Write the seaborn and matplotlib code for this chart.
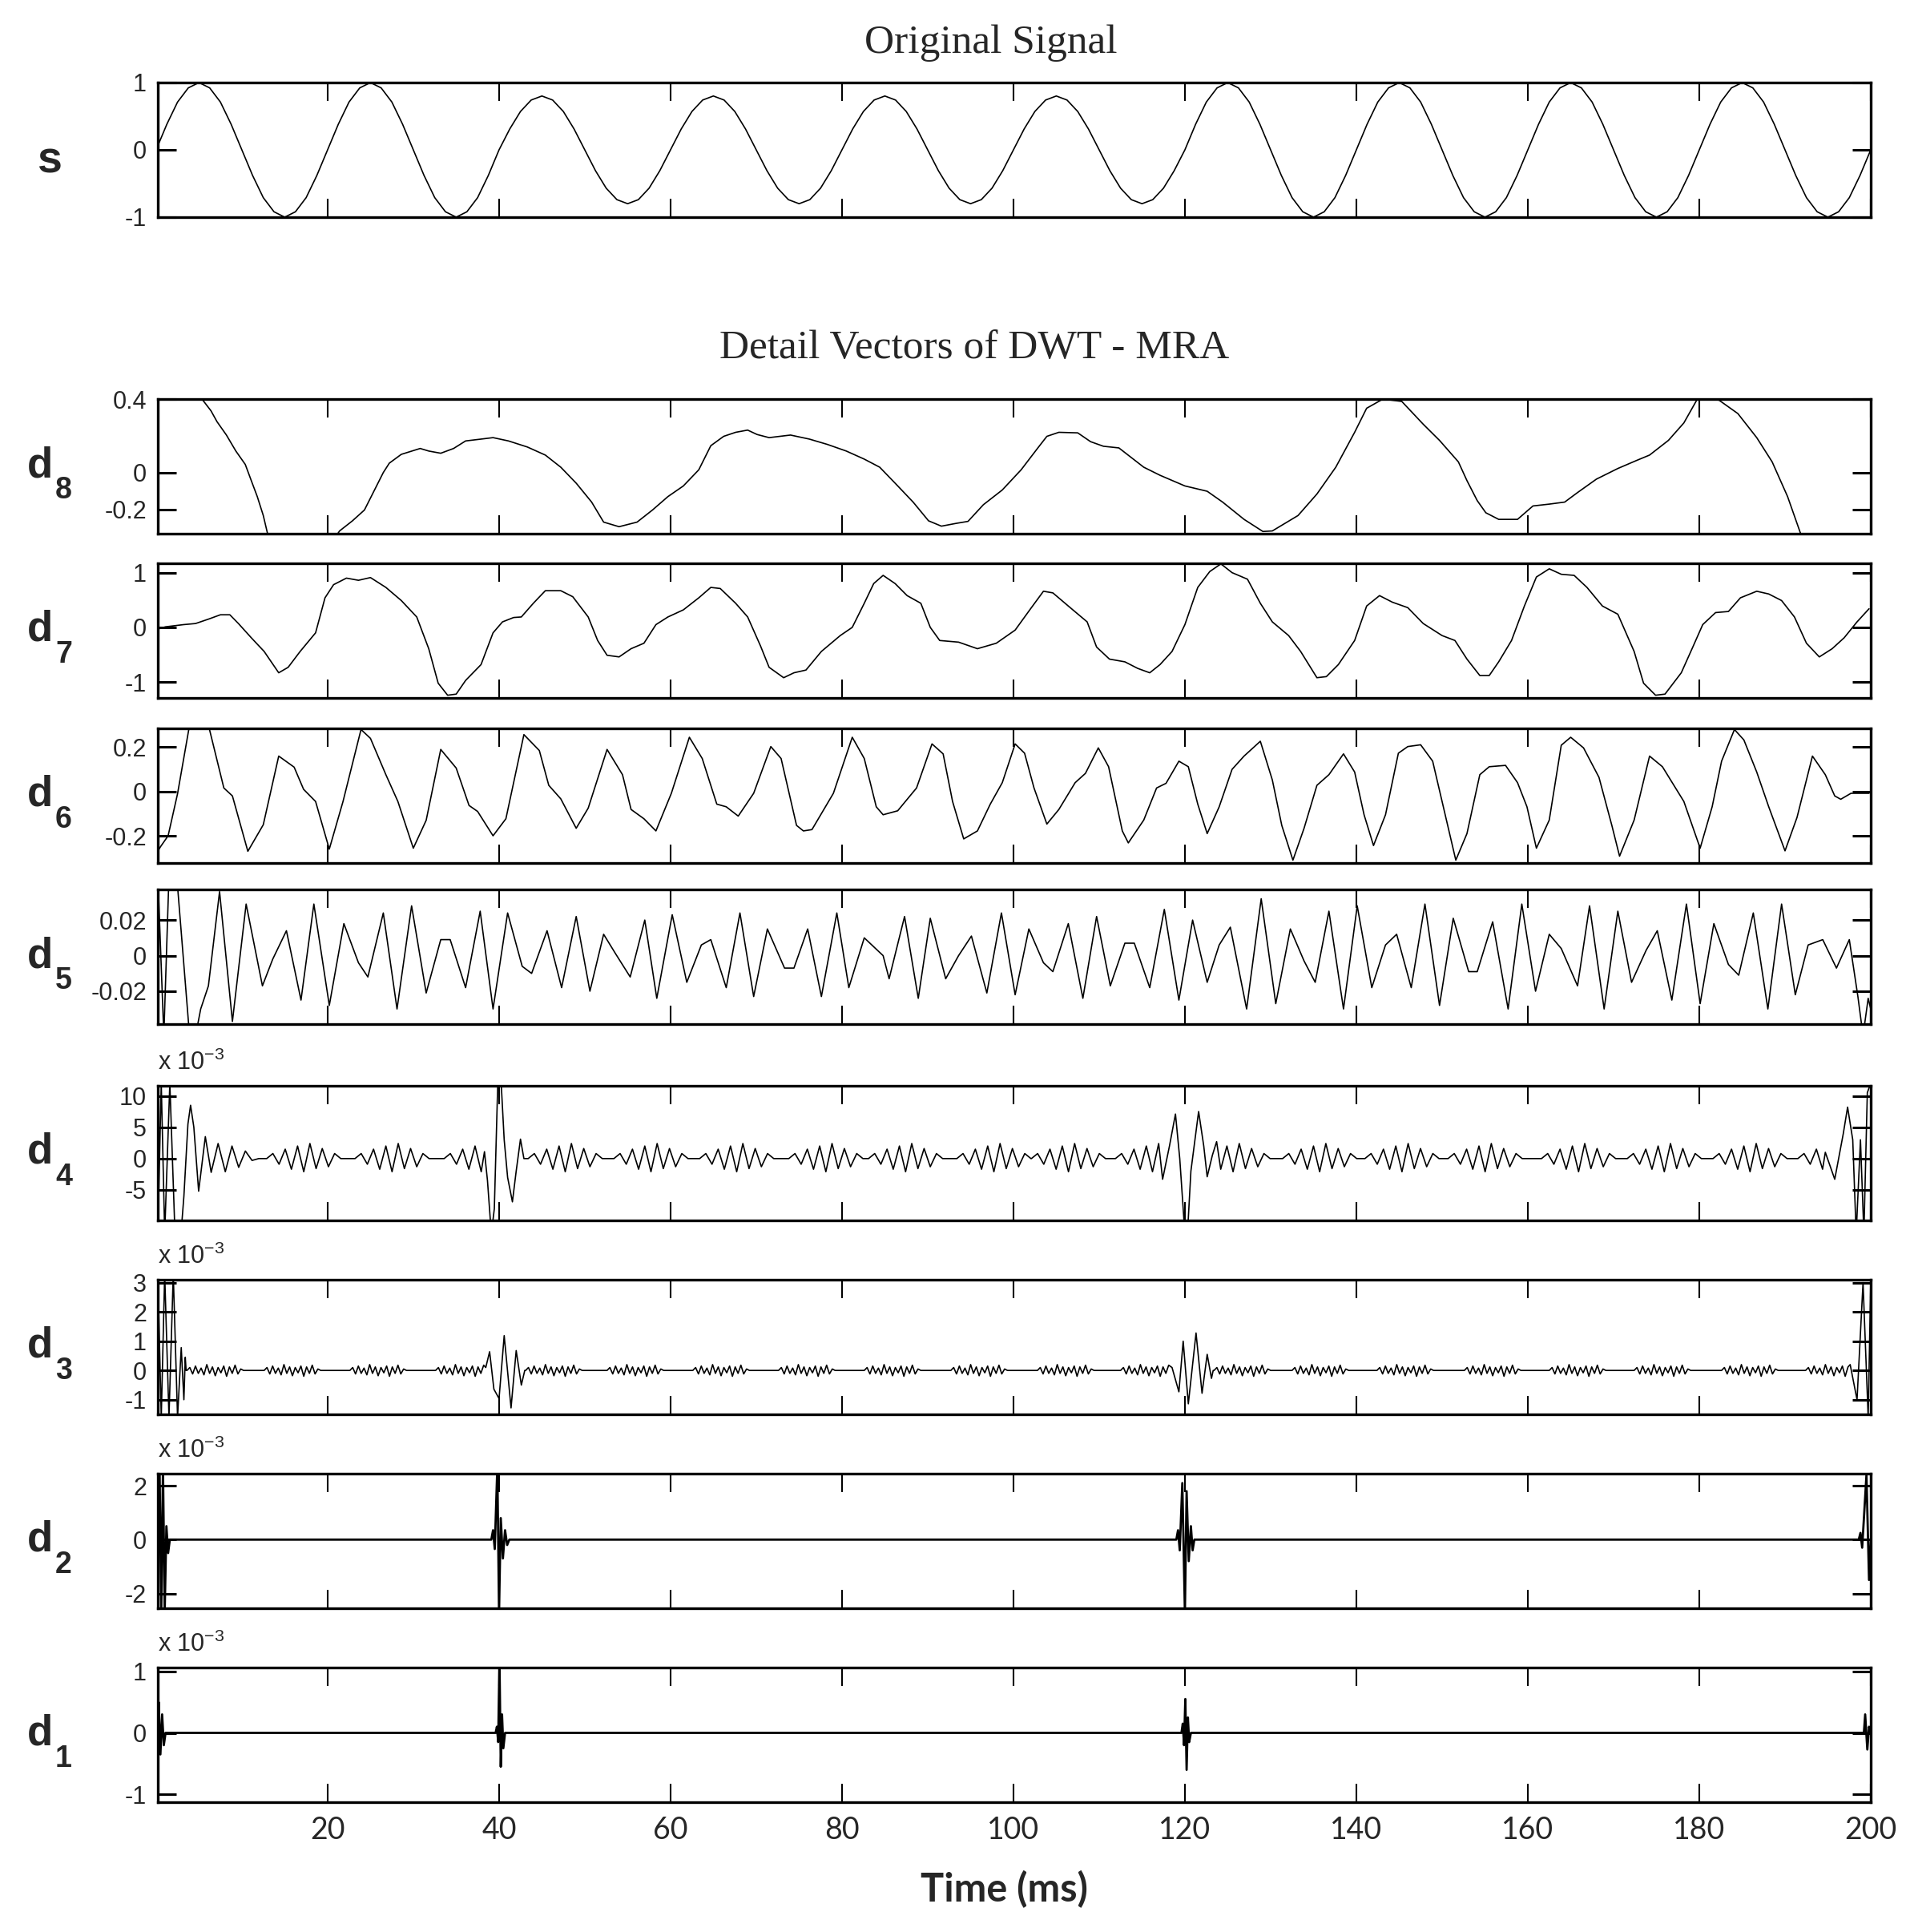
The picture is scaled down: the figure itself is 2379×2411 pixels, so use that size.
import numpy as np
import matplotlib
matplotlib.use("Agg")
import matplotlib.pyplot as plt
from matplotlib.ticker import FormatStrFormatter
import seaborn as sns

# ---------------- data (time in ms) ----------------
# original signal, sampled every 1.25 ms from 0 to 200 ms
s_step = 1.25
s_values = [
    0, 0.38, 0.71, 0.92, 1, 0.92, 0.71, 0.38, 0, -0.38, -0.71, -0.92, -1, -0.92, -0.71, -0.38,
    0, 0.38, 0.71, 0.92, 1, 0.92, 0.71, 0.38, 0, -0.38, -0.71, -0.92, -1, -0.92, -0.71, -0.38,
    0, 0.31, 0.57, 0.74, 0.8, 0.74, 0.57, 0.31, 0, -0.31, -0.57, -0.74, -0.8, -0.74, -0.57, -0.31,
    0, 0.31, 0.57, 0.74, 0.8, 0.74, 0.57, 0.31, 0, -0.31, -0.57, -0.74, -0.8, -0.74, -0.57, -0.31,
    0, 0.31, 0.57, 0.74, 0.8, 0.74, 0.57, 0.31, 0, -0.31, -0.57, -0.74, -0.8, -0.74, -0.57, -0.31,
    0, 0.31, 0.57, 0.74, 0.8, 0.74, 0.57, 0.31, 0, -0.31, -0.57, -0.74, -0.8, -0.74, -0.57, -0.31,
    0, 0.38, 0.71, 0.92, 1, 0.92, 0.71, 0.38, 0, -0.38, -0.71, -0.92, -1, -0.92, -0.71, -0.38,
    0, 0.38, 0.71, 0.92, 1, 0.92, 0.71, 0.38, 0, -0.38, -0.71, -0.92, -1, -0.92, -0.71, -0.38,
    0, 0.38, 0.71, 0.92, 1, 0.92, 0.71, 0.38, 0, -0.38, -0.71, -0.92, -1, -0.92, -0.71, -0.38,
    0, 0.38, 0.71, 0.92, 1, 0.92, 0.71, 0.38, 0, -0.38, -0.71, -0.92, -1, -0.92, -0.71, -0.38,
    0,
]

d8 = [(0.2, 0.75), (1.5, 0.62), (3.0, 0.5), (4.5, 0.43), (5.35, 0.40), (6.4, 0.336), (7.1, 0.277),
      (8.2, 0.204), (9.3, 0.117), (10.4, 0.044), (11.1, -0.044), (11.8, -0.131), (12.5, -0.234),
      (13.0, -0.333), (15.0, -0.45), (17.0, -0.52), (19.0, -0.48), (20.5, -0.38), (21.4, -0.318),
      (22.9, -0.263), (24.3, -0.204), (25.4, -0.102), (26.5, 0.0), (27.2, 0.051), (28.6, 0.099),
      (30.8, 0.131), (31.8, 0.117), (33.2, 0.105), (34.7, 0.131), (36.1, 0.172), (37.9, 0.182),
      (39.3, 0.190), (41.1, 0.172), (43.3, 0.139), (45.4, 0.095), (47.2, 0.029), (49.0, -0.058),
      (50.8, -0.161), (52.2, -0.27), (54.0, -0.295), (56.1, -0.27), (57.9, -0.204), (59.7, -0.131),
      (61.5, -0.073), (63.3, 0.015), (64.7, 0.146), (66.2, 0.197), (67.6, 0.219), (69.0, 0.231),
      (70.1, 0.207), (71.5, 0.19), (74.0, 0.204), (76.2, 0.182), (78.3, 0.153), (80.5, 0.117),
      (82.6, 0.073), (84.4, 0.029), (86.2, -0.058), (88.3, -0.161), (90.1, -0.263), (91.6, -0.292),
      (93.3, -0.277), (94.7, -0.266), (96.5, -0.175), (98.7, -0.095), (100.9, 0.015), (102.8, 0.131),
      (103.9, 0.197), (105.3, 0.219), (107.5, 0.216), (109.0, 0.168), (110.5, 0.143), (112.3, 0.134),
      (115.2, 0.029), (117.1, -0.015), (120.0, -0.073), (122.6, -0.102), (124.4, -0.161),
      (126.9, -0.255), (129.1, -0.321), (130.2, -0.318), (133.2, -0.234), (135.4, -0.117),
      (137.6, 0.029), (139.8, 0.219), (141.2, 0.35), (143.1, 0.40), (145.3, 0.387), (147.8, 0.263),
      (149.7, 0.175), (151.9, 0.058), (152.9, -0.044), (154.1, -0.153), (155.1, -0.219),
      (156.6, -0.255), (158.8, -0.255), (160.6, -0.182), (162.5, -0.172), (164.3, -0.161),
      (165.8, -0.109), (168.0, -0.036), (170.5, 0.022), (172.7, 0.066), (174.2, 0.095), (176.4, 0.175),
      (178.2, 0.27), (179.7, 0.394), (180.4, 0.405), (182.3, 0.394), (184.5, 0.321), (186.7, 0.19),
      (188.5, 0.058), (190.3, -0.131), (191.8, -0.33), (194.0, -0.48), (197.0, -0.6), (200.0, -0.65)]

d7 = [(0.2, -0.03), (1.1, 0.01), (3.2, 0.05), (4.6, 0.07), (6.1, 0.15), (7.5, 0.23), (8.6, 0.23),
      (9.6, 0.07), (11.1, -0.19), (12.6, -0.44), (14.3, -0.83), (15.4, -0.73), (16.8, -0.44),
      (18.6, -0.10), (19.7, 0.54), (20.7, 0.78), (22.2, 0.90), (23.6, 0.86), (25.0, 0.91), (26.8, 0.73),
      (28.6, 0.49), (30.4, 0.19), (31.8, -0.39), (32.9, -1.02), (34.0, -1.24), (35.0, -1.22),
      (36.1, -0.97), (37.9, -0.68), (39.3, -0.10), (40.4, 0.10), (41.7, 0.18), (42.6, 0.19), (44.0, 0.44),
      (45.4, 0.67), (47.2, 0.67), (48.6, 0.56), (50.4, 0.19), (51.5, -0.24), (52.6, -0.51), (54.0, -0.54),
      (55.4, -0.39), (56.9, -0.29), (58.3, 0.05), (59.7, 0.19), (61.5, 0.32), (63.3, 0.54), (64.7, 0.73),
      (65.8, 0.71), (67.6, 0.44), (69.0, 0.19), (70.5, -0.34), (71.5, -0.73), (73.2, -0.92),
      (74.4, -0.83), (75.8, -0.78), (77.6, -0.44), (79.8, -0.15), (81.2, 0.0), (82.6, 0.44), (83.7, 0.80),
      (84.8, 0.95), (86.2, 0.80), (87.6, 0.58), (89.2, 0.44), (90.3, 0.0), (91.4, -0.24), (93.6, -0.27),
      (95.8, -0.39), (98.0, -0.29), (100.2, -0.05), (102.0, 0.34), (103.5, 0.66), (104.6, 0.63),
      (106.4, 0.39), (108.6, 0.10), (109.7, -0.36), (111.2, -0.58), (113.0, -0.63), (114.5, -0.75),
      (115.9, -0.83), (117.1, -0.68), (118.5, -0.44), (120.0, 0.05), (121.5, 0.73), (122.9, 1.02),
      (124.2, 1.16), (125.5, 1.0), (127.3, 0.88), (128.8, 0.44), (130.2, 0.10), (132.1, -0.15),
      (133.5, -0.44), (135.4, -0.92), (136.5, -0.90), (137.9, -0.68), (139.8, -0.24), (141.2, 0.39),
      (142.7, 0.58), (144.2, 0.46), (146.0, 0.36), (147.8, 0.07), (150.0, -0.15), (151.5, -0.24),
      (152.9, -0.58), (154.4, -0.88), (155.5, -0.88), (156.6, -0.63), (158.1, -0.24), (159.6, 0.39),
      (161.0, 0.92), (162.5, 1.07), (163.9, 0.97), (165.4, 0.95), (166.9, 0.73), (168.7, 0.39),
      (170.5, 0.24), (172.4, -0.44), (173.5, -1.02), (174.9, -1.24), (176.0, -1.22), (177.9, -0.83),
      (179.3, -0.34), (180.4, 0.05), (181.9, 0.27), (183.4, 0.29), (184.8, 0.54), (186.7, 0.66),
      (188.1, 0.61), (189.6, 0.49), (191.1, 0.19), (192.5, -0.29), (194.0, -0.54), (195.5, -0.39),
      (196.9, -0.19), (198.4, 0.10), (199.8, 0.34)]

d6 = [(0.2, -0.27), (0.5, -0.25), (1.4, -0.2), (2.5, -0.01), (3.9, 0.3), (6.1, 0.3), (7.9, 0.016),
      (8.9, -0.02), (10.7, -0.27), (12.5, -0.15), (14.3, 0.16), (16.1, 0.11), (17.2, 0.01),
      (18.6, -0.045), (20.2, -0.26), (21.8, -0.045), (23.9, 0.28), (25.0, 0.24), (26.8, 0.076),
      (28.2, -0.045), (30.0, -0.256), (31.5, -0.13), (33.2, 0.19), (35.0, 0.106), (36.5, -0.063),
      (37.5, -0.09), (39.3, -0.2), (40.8, -0.123), (42.9, 0.257), (44.7, 0.185), (45.8, 0.028),
      (47.2, -0.033), (49.0, -0.166), (50.4, -0.075), (52.6, 0.19), (54.4, 0.076), (55.4, -0.081),
      (56.9, -0.123), (58.3, -0.178), (60.1, -0.008), (62.2, 0.245), (63.7, 0.149), (65.4, -0.057),
      (66.5, -0.069), (67.9, -0.111), (69.7, -0.008), (71.7, 0.203), (72.9, 0.149), (74.7, -0.153),
      (75.5, -0.178), (76.5, -0.172), (79.0, -0.008), (81.2, 0.245), (82.6, 0.149), (84.0, -0.069),
      (84.8, -0.105), (86.5, -0.087), (88.7, 0.016), (90.5, 0.215), (91.8, 0.17), (92.9, -0.045),
      (94.2, -0.214), (95.8, -0.178), (97.3, -0.057), (98.7, 0.04), (100.2, 0.215), (101.3, 0.173),
      (102.4, 0.016), (103.9, -0.147), (105.3, -0.081), (107.2, 0.04), (108.4, 0.082), (109.9, 0.197),
      (111.1, 0.112), (112.7, -0.178), (113.4, -0.232), (115.2, -0.129), (116.7, 0.016), (117.8, 0.037),
      (119.3, 0.137), (120.4, 0.112), (121.5, -0.057), (122.6, -0.19), (124.0, -0.069), (125.5, 0.1),
      (126.9, 0.16), (128.8, 0.227), (130.2, 0.052), (131.3, -0.153), (132.6, -0.31), (133.9, -0.166),
      (135.4, 0.028), (136.8, 0.076), (138.5, 0.17), (139.8, 0.088), (140.9, -0.105), (142.0, -0.244),
      (143.4, -0.105), (144.9, 0.173), (146.0, 0.203), (147.5, 0.211), (148.9, 0.137), (150.0, -0.045),
      (151.6, -0.31), (152.9, -0.19), (154.4, 0.076), (155.5, 0.112), (157.4, 0.118), (158.8, 0.04),
      (159.9, -0.069), (161.0, -0.256), (162.5, -0.129), (163.9, 0.209), (165.0, 0.245), (166.5, 0.197),
      (168.3, 0.064), (169.8, -0.153), (170.7, -0.292), (172.4, -0.129), (174.2, 0.16), (175.7, 0.112),
      (178.2, -0.045), (180.1, -0.256), (181.5, -0.069), (182.6, 0.137), (184.1, 0.28), (185.2, 0.233),
      (186.7, 0.088), (188.1, -0.069), (190.0, -0.268), (191.4, -0.117), (193.2, 0.16), (194.7, 0.076),
      (195.8, -0.02), (196.5, -0.035), (197.7, -0.008), (199.8, -0.008)]

d5 = [(0.2, 0.045), (0.9, -0.045), (1.5, 0.045), (2.4, 0.045), (3.9, -0.045), (4.6, -0.045),
      (5.2, -0.03), (6.1, -0.017), (7.4, 0.036), (8.9, -0.037), (10.5, 0.029), (12.4, -0.017),
      (13.6, -0.002), (15.2, 0.014), (16.9, -0.025), (18.4, 0.029), (20.2, -0.028), (21.9, 0.018),
      (23.6, -0.004), (24.7, -0.012), (26.5, 0.024), (28.1, -0.03), (29.8, 0.028), (31.5, -0.021),
      (33.2, 0.009), (34.3, 0.009), (36.1, -0.018), (37.8, 0.025), (39.3, -0.03), (41.0, 0.024),
      (42.7, -0.006), (43.8, -0.01), (45.6, 0.014), (47.3, -0.018), (49.0, 0.022), (50.6, -0.02),
      (52.2, 0.012), (53.6, 0.001), (55.3, -0.012), (57.0, 0.02), (58.4, -0.024), (60.2, 0.023),
      (61.9, -0.015), (63.6, 0.006), (64.7, 0.009), (66.5, -0.018), (68.1, 0.024), (69.7, -0.023),
      (71.3, 0.015), (73.3, -0.007), (74.4, -0.007), (76.0, 0.015), (77.6, -0.023), (79.4, 0.024),
      (80.8, -0.018), (82.6, 0.01), (84.8, 0.0), (85.5, -0.013), (87.3, 0.022), (88.9, -0.024),
      (90.3, 0.021), (92.1, -0.013), (93.6, 0.0), (95.1, 0.011), (96.9, -0.021), (98.6, 0.024),
      (100.2, -0.022), (101.8, 0.015), (103.5, -0.004), (104.6, -0.009), (106.4, 0.018), (108.1, -0.024),
      (109.7, 0.022), (111.3, -0.017), (113.0, 0.007), (114.1, 0.007), (115.9, -0.018), (117.6, 0.026),
      (119.3, -0.025), (120.9, 0.02), (122.6, -0.015), (124.0, 0.006), (125.3, 0.016), (127.2, -0.03),
      (128.9, 0.032), (130.6, -0.027), (132.3, 0.015), (133.9, -0.003), (135.2, -0.015), (136.8, 0.025),
      (138.5, -0.03), (140.1, 0.028), (141.8, -0.018), (143.4, 0.006), (144.7, 0.012), (146.4, -0.018),
      (148.0, 0.029), (149.7, -0.028), (151.3, 0.021), (153.1, -0.009), (154.1, -0.009), (155.9, 0.019),
      (157.7, -0.03), (159.3, 0.029), (160.9, -0.02), (162.5, 0.012), (163.9, 0.004), (165.8, -0.017),
      (167.2, 0.028), (168.9, -0.03), (170.5, 0.025), (172.1, -0.015), (173.8, 0.003), (175.1, 0.014),
      (176.8, -0.025), (178.5, 0.029), (180.1, -0.027), (181.7, 0.018), (183.4, -0.005), (184.6, -0.011),
      (186.3, 0.024), (188.0, -0.03), (189.6, 0.029), (191.2, -0.022), (192.7, 0.006), (194.4, 0.009),
      (196.0, -0.007), (197.5, 0.009), (198.5, -0.023), (199.1, -0.045), (199.7, -0.024), (200.0, -0.03)]

# d4 (x 1e-3): bursts at the edges and near 40 / 120 ms, small wave packets in between
d4_bursts = [
    [(0.2, -12), (0.6, 12), (1.0, -12), (1.4, 4), (1.6, 12), (2.2, -12), (2.9, -12), (3.24, -6),
     (3.71, 5.5), (4.02, 8.5), (4.4, 5), (4.96, -5.2), (5.74, 3.5), (6.42, -2.2), (7.23, 2.4),
     (8.07, -2.1), (8.85, 2.0), (9.63, -1.4), (10.41, 1.2), (11.19, -0.3), (11.97, 0), (12.74, 0)],
    [(38.3, 1.1), (38.65, -3.5), (39.1, -12), (39.45, -8), (39.85, 12), (40.25, 12), (40.6, 3.0),
     (41.0, -3.0), (41.56, -6.9), (42.0, -2.0), (42.5, 3.1), (42.9, 0.0)],
    [(117.4, -3.3), (118.2, 2.0), (118.9, 7.1), (119.4, 0.0), (120.0, -12), (120.3, -12),
     (120.7, -2.0), (121.6, 7.5), (122.2, 2.0), (122.6, -2.9), (123.2, 0.5), (123.7, 2.7)],
    [(194.7, 1.0), (195.8, -3.3), (196.8, 4.0), (197.3, 8.2), (197.9, 3.0), (198.3, -12),
     (198.8, 3.0), (199.2, -12), (199.6, 10.5), (200.0, 12)],
]
d4_windows = [(0.0, 12.8), (38.2, 43.0), (117.2, 124.0), (194.5, 200.1)]
d4_packet_starts = [12.9, 23.2, 33.6, 43.4, 53.4, 63.4, 73.8, 83.1, 93.4, 102.1, 111.9, 121.3,
                    131.4, 141.0, 150.7, 161.6, 171.6, 181.6, 191.5]
d4_packet = [0, 0.8, -0.9, 1.5, -1.7, 2.0, -2.1, 2.4, -1.6, 1.6, -1.3, 0.8, 0]
d4_packet_step = 0.72

# d3 (x 1e-3)
d3_bursts = [
    [(0.2, 3.3), (0.6, -1.6), (1.0, 3.3), (1.5, -1.6), (2.0, 3.3), (2.5, -1.6), (2.93, 0.78),
     (3.24, -1.0), (3.4, 0.45), (3.5, 0.0)],
    [(38.45, 0.1), (38.9, 0.64), (39.4, -0.64), (40.0, -0.96), (40.3, 0.1), (40.6, 1.19),
     (41.1, -0.36), (41.4, -1.28), (42.0, 0.68), (42.6, -0.5), (43.0, 0.0)],
    [(118.5, 0.1), (119.3, -0.73), (119.8, 1.0), (120.4, -1.14), (121.3, 1.28), (122.0, -0.78),
     (122.6, 0.55), (123.1, -0.27), (123.3, 0.0)],
    [(197.6, 0.2), (198.4, -1.0), (199.1, 3.0), (199.7, -1.6), (200.0, 3.1)],
]
d3_windows = [(0.0, 3.55), (38.3, 43.0), (118.4, 123.35), (197.5, 200.1)]
d3_packet_starts = [3.6, 12.6, 22.6, 32.6, 43.1, 52.6, 62.6, 72.6, 82.6, 92.7, 102.8, 112.5,
                    123.4, 132.5, 142.4, 152.6, 162.5, 172.4, 182.6, 192.4]
d3_packet = [0, 0.1, -0.12, 0.15, -0.1, 0.08, -0.15, 0.2, -0.1, 0.12, -0.18, 0.1, -0.08, 0.15,
             -0.2, 0.12, -0.1, 0.18, -0.12, 0.05, 0]
d3_packet_step = 0.33

# d2 (x 1e-3)
d2 = [(0.2, 0.0), (0.4, 2.7), (0.6, -2.7), (0.8, 2.7), (1.0, -2.7), (1.2, 0.5), (1.4, -0.5),
      (1.6, 0.0), (39.1, 0.0), (39.3, 0.35), (39.5, -0.35), (39.8, 2.7), (40.0, -2.7), (40.2, 0.8),
      (40.45, -0.7), (40.7, 0.35), (40.95, -0.2), (41.2, 0.0), (119.0, 0.0), (119.2, 0.35),
      (119.4, -0.4), (119.7, 2.1), (120.0, -2.7), (120.2, 1.8), (120.45, -0.8), (120.7, 0.5),
      (120.9, -0.4), (121.1, 0.0), (198.6, 0.0), (198.8, 0.25), (199.0, -0.3), (199.5, 2.4),
      (199.8, -1.5), (200.0, 0.0)]

# d1 (x 1e-3)
d1 = [(0.2, 0.0), (0.3, 0.5), (0.5, -0.35), (0.7, 0.3), (0.9, -0.2), (1.1, 0.0), (39.6, 0.0),
      (39.75, 0.1), (39.9, -0.15), (40.05, 1.2), (40.2, -0.55), (40.35, 0.3), (40.5, -0.25),
      (40.7, 0.0), (119.6, 0.0), (119.75, 0.15), (119.9, -0.2), (120.05, 0.55), (120.2, -0.6),
      (120.35, 0.25), (120.5, -0.15), (120.7, 0.0), (199.2, 0.0), (199.35, 0.3), (199.6, -0.27),
      (199.8, 0.1), (200.0, 0.0)]

x_ticks = [20, 40, 60, 80, 100, 120, 140, 160, 180, 200]


def build_detail(bursts, windows, starts, packet, step):
    pts = [p for b in bursts for p in b]
    for t0 in starts:
        for k, v in enumerate(packet):
            t = t0 + k * step
            if any(lo <= t <= hi for lo, hi in windows):
                continue
            pts.append((t, v))
    pts.sort()
    return pts


def unzip(pts):
    t, v = zip(*pts)
    return np.array(t), np.array(v)


d4 = build_detail(d4_bursts, d4_windows, d4_packet_starts, d4_packet, d4_packet_step)
d3 = build_detail(d3_bursts, d3_windows, d3_packet_starts, d3_packet, d3_packet_step)

s_time = np.arange(len(s_values)) * s_step

# name, (t, v), ylim, yticks, level subscript, scale note
panels = [
    ("s", (s_time, np.array(s_values)), (-1, 1), [-1, 0, 1], None, False),
    ("d8", unzip(d8), (-0.333, 0.4), [-0.2, 0, 0.4], "8", False),
    ("d7", unzip(d7), (-1.29, 1.17), [-1, 0, 1], "7", False),
    ("d6", unzip(d6), (-0.323, 0.285), [-0.2, 0, 0.2], "6", False),
    ("d5", unzip(d5), (-0.0385, 0.0372), [-0.02, 0, 0.02], "5", False),
    ("d4", unzip(d4), (-9.86, 11.6), [-5, 0, 5, 10], "4", True),
    ("d3", unzip(d3), (-1.5, 3.1), [-1, 0, 1, 2, 3], "3", True),
    ("d2", unzip(d2), (-2.55, 2.45), [-2, 0, 2], "2", True),
    ("d1", unzip(d1), (-1.125, 1.06), [-1, 0, 1], "1", True),
]

# ---------------- layout (pixels of the 2379 x 2411 canvas) ----------------
W, H = 2379, 2411
ax_left, ax_right = 197, 2335
panel_tops = [103, 498, 703, 909, 1110, 1355, 1597, 1839, 2081]
panel_h = 168
width_px = ax_right - ax_left

sns.set_theme(style="white")
plt.rcParams.update({
    "font.family": ["Liberation Sans", "DejaVu Sans"],
    "mathtext.fontset": "custom",
    "mathtext.rm": "Liberation Sans",
    "mathtext.bf": "Liberation Sans:bold",
    "mathtext.it": "Liberation Sans:italic",
    "axes.edgecolor": "black",
    "axes.linewidth": 2.4,
    "axes.facecolor": "white",
    "figure.facecolor": "white",
})

fig = plt.figure(figsize=(W / 100, H / 100), dpi=100)

for i, (name, (t, v), ylim, yticks, sub, scaled) in enumerate(panels):
    top = panel_tops[i]
    ax = fig.add_axes([ax_left / W, 1 - (top + panel_h) / H, width_px / W, panel_h / H])
    lw = 2.0 if name in ("d2", "d1") else 1.2
    sns.lineplot(x=t, y=v, ax=ax, color="black", linewidth=lw,
                 estimator=None, sort=False)
    ax.set_xlim(0.2, 200)
    ax.set_ylim(*ylim)
    ax.set_yticks(yticks)
    ax.yaxis.set_major_formatter(FormatStrFormatter("%g"))
    last = i == len(panels) - 1
    if last:
        ax.set_xticks(x_ticks, labels=[str(x) for x in x_ticks],
                      fontfamily="Lato", fontsize=27)
    else:
        ax.set_xticks(x_ticks, labels=[])
    ax.tick_params(axis="x", direction="in", length=16.5, width=1.5, color="black",
                   top=True, bottom=True, pad=12)
    ax.tick_params(axis="y", direction="in", length=16.5, width=2.2, color="black",
                   left=True, right=True, labelsize=22, pad=10)
    for sp in ax.spines.values():
        sp.set_visible(True)
        sp.set_linewidth(2.4)
        sp.set_color("black")
    ax.set_xlabel("")
    ax.set_ylabel("")

    # row label: bold "s", or bold "d" with its level number set low beside it
    if sub is None:
        ax.text((61 - ax_left) / width_px, (panel_h - 112) / panel_h, "s",
                transform=ax.transAxes, ha="center", va="baseline",
                fontsize=40, fontweight="bold")
    else:
        ax.text((50 - ax_left) / width_px, (panel_h - 97) / panel_h, "d",
                transform=ax.transAxes, ha="center", va="baseline",
                fontsize=38, fontweight="bold")
        ax.text((69 - ax_left) / width_px, (panel_h - 124) / panel_h, sub,
                transform=ax.transAxes, ha="left", va="baseline",
                fontsize=27, fontweight="bold")
    if scaled:
        ax.text(0.0, 1.12, r"x 10$^{\mathregular{-3}}$", transform=ax.transAxes,
                ha="left", va="baseline", fontsize=22)

fig.text(1237 / W, 1 - 66 / H, "Original Signal", ha="center", va="baseline",
         fontfamily="Liberation Serif", fontsize=37)
fig.text(1216 / W, 1 - 447 / H, "Detail Vectors of DWT - MRA", ha="center", va="baseline",
         fontfamily="Liberation Serif", fontsize=37)
fig.text(1253 / W, 1 - 2373 / H, "Time (ms)", ha="center", va="baseline",
         fontfamily="Lato", fontweight="bold", fontsize=35)

fig.savefig("out.png", dpi=100)
